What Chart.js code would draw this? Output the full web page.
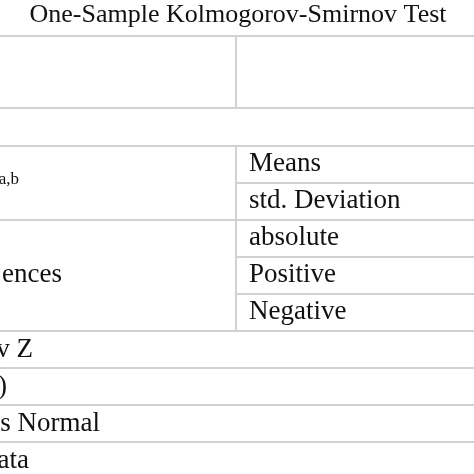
<!DOCTYPE html>
<html lang="en">
  <head>
    <meta charset="utf-8">
    <title>One-Sample Kolmogorov-Smirnov Test</title>
    <script src="https://cdn.jsdelivr.net/npm/chart.js@4"></script>
    <style>
      body { margin: 0; background: #fff; }
      #wrap { width: 474px; height: 474px; }
    </style>
  </head>
  <body>
    <div id="wrap"><canvas id="table"></canvas></div>
    <script>
      // table content, page coordinates are mapped through the chart scales
      const title = "One-Sample Kolmogorov-Smirnov Test";
      const hLines = [  // [y, xFrom, xTo]
        [36, 0, 474], [108, 0, 474], [146, 0, 474], [183, 236, 474],
        [220, 0, 474], [257, 236, 474], [294, 236, 474], [331, 0, 474],
        [368, 0, 474], [405, 0, 474], [442, 0, 474]
      ];
      const vLines = [[236, 36, 108], [236, 146, 331]];  // [x, yFrom, yTo]
      const rightLabels = ["Means", "std. Deviation", "absolute", "Positive", "Negative"];
      const rightRowY = [164, 201, 238, 275, 312];
      // left column is cut off, only the visible tail of each label
      const leftLabels = ["ences", "v Z", ")", "s Normal", "ata"];
      const leftRowY = [275, 350, 387, 424, 461];
      const leftEndX = [62, 33, 7, 100, 29];

      const tablePlugin = {
        id: "tableDraw",
        afterDraw(chart) {
          const ctx = chart.ctx, sx = chart.scales.x, sy = chart.scales.y;
          ctx.save();
          ctx.strokeStyle = "#d2d2d2";
          ctx.lineWidth = 2;
          hLines.forEach(([y, a, b]) => {
            ctx.beginPath();
            ctx.moveTo(sx.getPixelForValue(a), sy.getPixelForValue(y));
            ctx.lineTo(sx.getPixelForValue(b), sy.getPixelForValue(y));
            ctx.stroke();
          });
          vLines.forEach(([x, a, b]) => {
            ctx.beginPath();
            ctx.moveTo(sx.getPixelForValue(x), sy.getPixelForValue(a));
            ctx.lineTo(sx.getPixelForValue(x), sy.getPixelForValue(b));
            ctx.stroke();
          });
          ctx.fillStyle = "#111";
          ctx.textBaseline = "middle";
          ctx.font = "26px 'Liberation Serif'";
          ctx.textAlign = "center";
          ctx.fillText(title, sx.getPixelForValue(238), sy.getPixelForValue(15));
          ctx.font = "27px 'Liberation Serif'";
          ctx.textAlign = "left";
          rightLabels.forEach((t, i) => ctx.fillText(t, sx.getPixelForValue(249), sy.getPixelForValue(rightRowY[i])));
          ctx.textAlign = "right";
          leftLabels.forEach((t, i) => ctx.fillText(t, sx.getPixelForValue(leftEndX[i]), sy.getPixelForValue(leftRowY[i])));
          ctx.font = "17px 'Liberation Serif'";
          ctx.fillText("a,b", sx.getPixelForValue(19), sy.getPixelForValue(180));
          ctx.restore();
        }
      };

      new Chart("table", {
        type: "scatter",
        data: { datasets: [{ data: [], pointRadius: 0 }] },
        options: {
          responsive: true,
          maintainAspectRatio: false,
          animation: false,
          layout: { padding: 0 },
          plugins: { legend: { display: false }, tooltip: { enabled: false } },
          scales: {
            x: { type: "linear", min: 0, max: 474, display: false },
            y: { type: "linear", min: 0, max: 474, reverse: true, display: false }
          }
        },
        plugins: [tablePlugin]
      });
    </script>
  </body>
</html>
